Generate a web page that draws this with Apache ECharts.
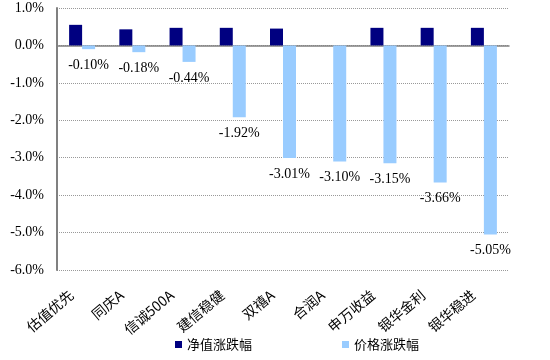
<!DOCTYPE html>
<html>
<head>
<meta charset="utf-8">
<script src="https://cdn.jsdelivr.net/npm/echarts@6/dist/echarts.min.js"></script>
<style>
html, body { margin: 0; padding: 0; background: #fff; }
#main { width: 550px; height: 360px; }
</style>
</head>
<body>
<div id="main"></div>
<script>
var categories = ['估值优先', '同庆A', '信诚500A', '建信稳健', '双禧A', '合润A', '申万收益', '银华金利', '银华稳进'];
var navChange = [0.55, 0.43, 0.47, 0.47, 0.45, null, 0.47, 0.47, 0.47];
var priceChange = [-0.10, -0.18, -0.44, -1.92, -3.01, -3.10, -3.15, -3.66, -5.05];
var seriesNames = ['净值涨跌幅', '价格涨跌幅'];

var myChart = echarts.init(document.getElementById('main'));

var option = {
	animation: false,
	grid: { left: 57, right: 41, top: 8, bottom: 90 },
	legend: {
		bottom: 4,
		left: 170,
		itemWidth: 7,
		itemHeight: 7,
		itemGap: 90,
		icon: 'rect',
		textStyle: { fontFamily: 'Noto Sans CJK SC', fontSize: 13, color: '#000' },
		data: seriesNames
	},
	xAxis: [{
		type: 'category',
		data: categories,
		axisLine: { onZero: true, lineStyle: { color: '#808080', width: 1.5 } },
		axisTick: { inside: true, length: 4, lineStyle: { color: '#555' } },
		axisLabel: { show: false }
	}, {
		type: 'category',
		data: categories,
		position: 'bottom',
		axisLine: { show: false },
		axisTick: { show: false },
		axisLabel: {
			rotate: 40,
			margin: 14,
			padding: [0, 14, 0, 0],
			fontFamily: 'Noto Sans CJK SC',
			fontSize: 14,
			color: '#000'
		}
	}],
	yAxis: {
		type: 'value',
		min: -6,
		max: 1,
		interval: 1,
		axisLine: { show: true, lineStyle: { color: '#808080', width: 2 } },
		axisTick: { show: false },
		splitLine: { lineStyle: { color: '#999', type: 'dotted' } },
		axisLabel: {
			margin: 13,
			fontFamily: 'Liberation Serif',
			fontSize: 14,
			color: '#000',
			formatter: function(v) { return v.toFixed(1) + '%'; }
		}
	},
	series: [{
		name: seriesNames[0],
		type: 'bar',
		barWidth: 13,
		barGap: '0%',
		itemStyle: { color: '#000080' },
		data: navChange
	}, {
		name: seriesNames[1],
		type: 'bar',
		barWidth: 13,
		barGap: '0%',
		itemStyle: { color: '#99CCFF' },
		label: {
			show: true,
			position: 'bottom',
			distance: 9,
			fontFamily: 'Liberation Serif',
			fontSize: 14,
			color: '#000',
			formatter: function(p) { return p.value.toFixed(2) + '%'; }
		},
		data: priceChange
	}]
};

myChart.setOption(option);
</script>
</body>
</html>
